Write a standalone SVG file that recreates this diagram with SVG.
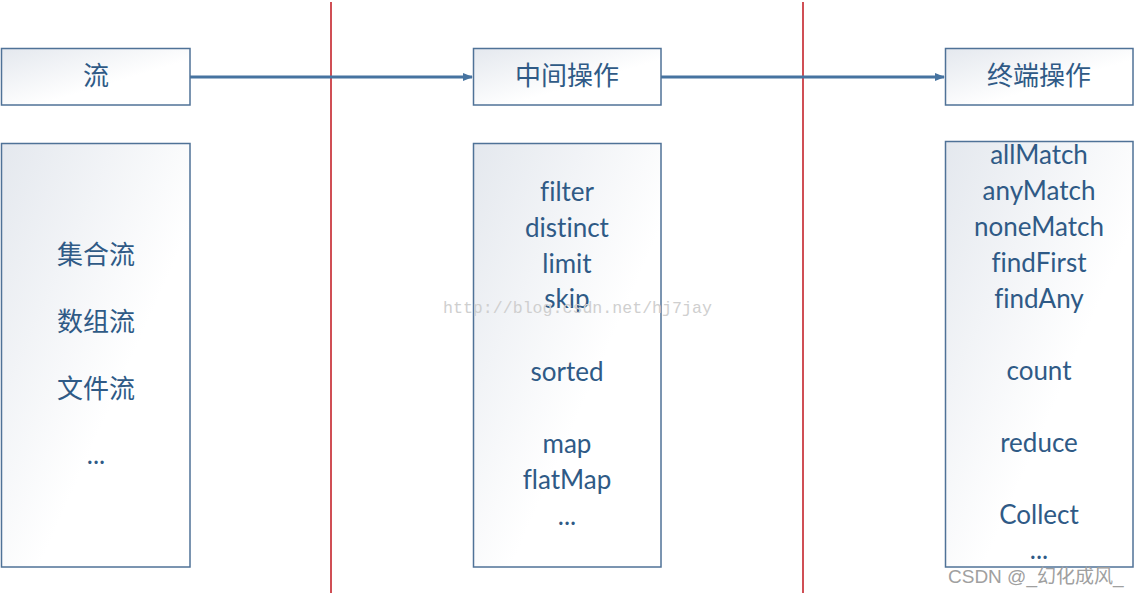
<svg xmlns="http://www.w3.org/2000/svg" width="1135" height="594" viewBox="0 0 1135 594">
<style>
.box{fill:url(#g);stroke:#4f7297;stroke-width:1.5}
.t{font-family:Lato,"Noto Sans CJK SC",sans-serif;font-size:26px;fill:#2f5a86;text-anchor:middle;dominant-baseline:central;font-variant-ligatures:none}
.red{stroke:#c0141c;stroke-width:1.5}
.conn{stroke:#4673a0;stroke-width:3;fill:none;marker-end:url(#ah)}
.wm{font-family:"Liberation Mono",monospace;font-size:16.6px;fill:#cfcfcf}
.wm2{font-family:"Liberation Sans","Noto Sans CJK SC",sans-serif;font-size:19px;fill:#a0a0a0}
</style>
<defs>
<linearGradient id="g" x1="0" y1="0" x2="1" y2="1">
<stop offset="0" stop-color="#e4e8ee"/>
<stop offset="0.6" stop-color="#ffffff"/>
</linearGradient>
<marker id="ah" markerWidth="10" markerHeight="8" refX="9" refY="4" orient="auto" markerUnits="userSpaceOnUse">
<path d="M0,0 L10,4 L0,8 z" fill="#4673a0"/>
</marker>
</defs>
<rect width="1135" height="594" fill="#fff"/>
<line class="red" x1="331" y1="2" x2="331" y2="593"/>
<line class="red" x1="803" y1="2" x2="803" y2="593"/>
<g id="connectors">
<line class="conn" x1="190" y1="77" x2="472" y2="77"/>
<line class="conn" x1="661" y1="77" x2="944" y2="77"/>
</g>
<g id="stream">
<rect class="box" x="1.5" y="48.5" width="188.5" height="56.5"/>
<text class="t" x="96" y="75">流</text>
</g>
<g id="intermediate">
<rect class="box" x="473.5" y="48.5" width="187.5" height="56.5"/>
<text class="t" x="567" y="75">中间操作</text>
</g>
<g id="terminal">
<rect class="box" x="945.5" y="48.5" width="187.5" height="56.5"/>
<text class="t" x="1039" y="75">终端操作</text>
</g>
<g id="stream-list">
<rect class="box" x="1.5" y="143.5" width="188.5" height="423.5"/>
<text class="t" x="96" y="254">集合流</text>
<text class="t" x="96" y="321">数组流</text>
<text class="t" x="96" y="388">文件流</text>
<text class="t" x="96" y="454">...</text>
</g>
<g id="intermediate-list">
<rect class="box" x="473.5" y="143.5" width="187.5" height="423.5"/>
<text class="t" x="567" y="191">filter</text>
<text class="t" x="567" y="227">distinct</text>
<text class="t" x="567" y="263">limit</text>
<text class="t" x="567" y="298">skip</text>
<text class="t" x="567" y="371">sorted</text>
<text class="t" x="567" y="443">map</text>
<text class="t" x="567" y="479">flatMap</text>
<text class="t" x="567" y="515">...</text>
</g>
<g id="terminal-list">
<rect class="box" x="945.5" y="141.5" width="187.5" height="425.5"/>
<text class="t" x="1039" y="154">allMatch</text>
<text class="t" x="1039" y="190">anyMatch</text>
<text class="t" x="1039" y="226">noneMatch</text>
<text class="t" x="1039" y="262">findFirst</text>
<text class="t" x="1039" y="298">findAny</text>
<text class="t" x="1039" y="370">count</text>
<text class="t" x="1039" y="442">reduce</text>
<text class="t" x="1039" y="514">Collect</text>
<text class="t" x="1039" y="549">...</text>
</g>
<text class="wm" x="443" y="313">http://blog.csdn.net/hj7jay</text>
<text class="wm2" x="948" y="583">CSDN @_幻化成风_</text>
</svg>
